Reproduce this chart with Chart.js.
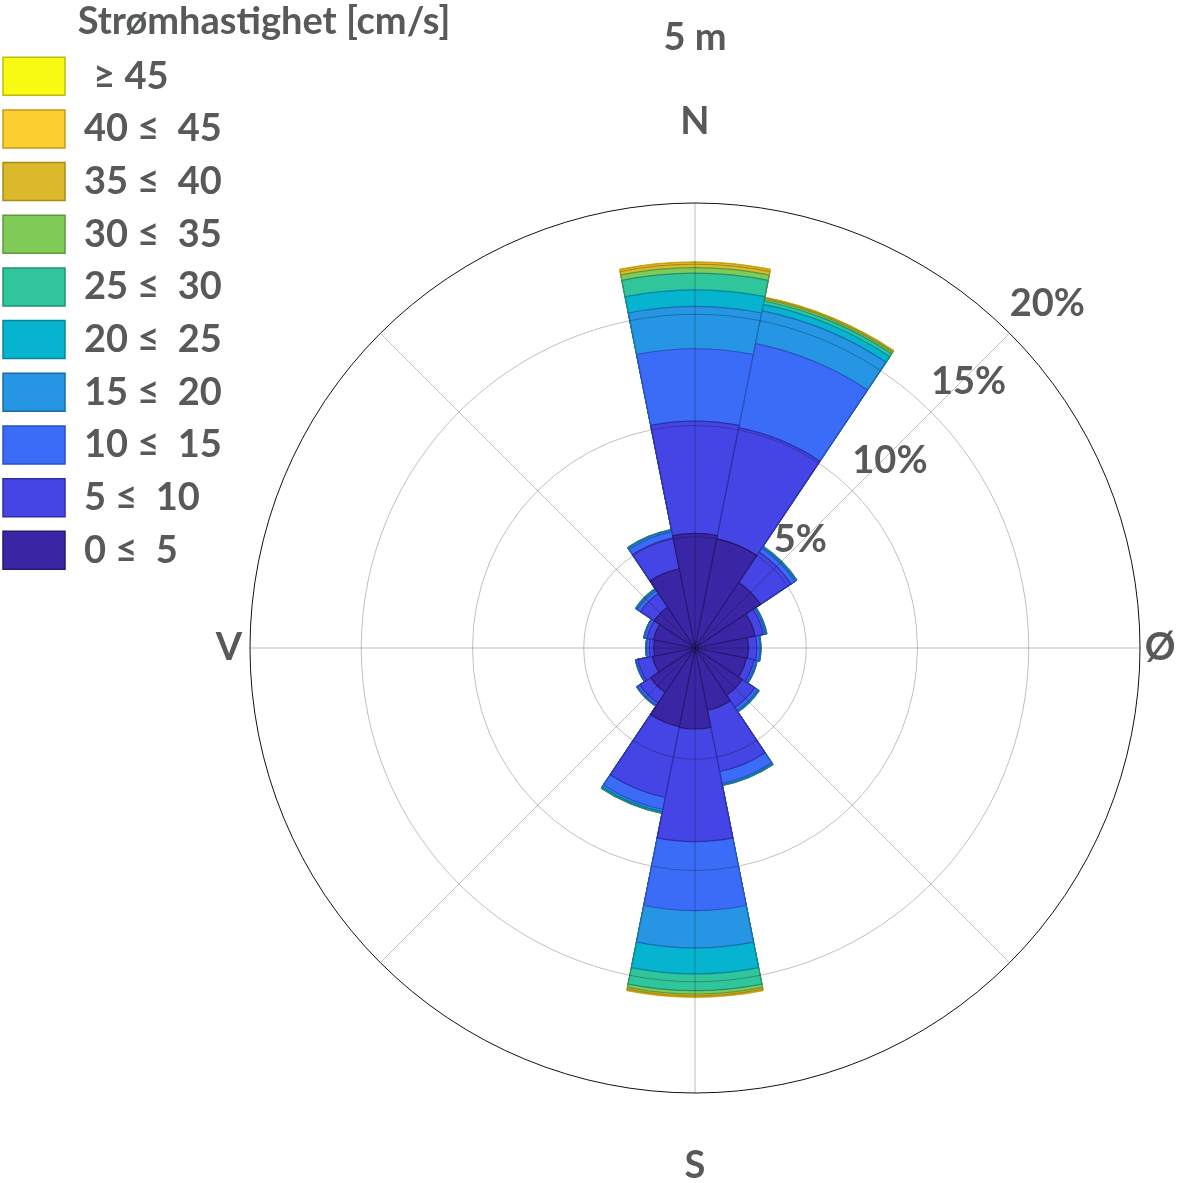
<!DOCTYPE html>
<html>
<head>
<meta charset="utf-8">
<title>Strømrose 5 m</title>
<script src="https://cdn.jsdelivr.net/npm/chart.js@4.4.1/dist/chart.umd.min.js"></script>
<style>
  html, body { margin: 0; padding: 0; background: #fff; }
  #wrap { width: 1179px; height: 1183px; position: relative; }
</style>
</head>
<body>
<div id="wrap"><canvas id="rose"></canvas></div>
<script>
// 16 sectors, clockwise from north
const directions = ['N', 'NNØ', 'NØ', 'ØNØ', 'Ø', 'ØSØ', 'SØ', 'SSØ', 'S', 'SSV', 'SV', 'VSV', 'V', 'VNV', 'NV', 'NNV'];

// % of time in each speed class (cm/s), per sector
const speed0to5   = [5.15, 5.00, 3.54, 2.75, 2.40, 2.35, 2.55, 2.85, 3.64, 3.60, 2.40, 1.95, 1.85, 1.90, 2.20, 3.63];
const speed5to10  = [5.05, 5.10, 1.65, 0.38, 0.38, 0.35, 0.67, 2.81, 5.06, 3.25, 0.58, 0.67, 0.20, 0.30, 0.75, 1.42];
const speed10to15 = [3.25, 3.85, 0.21, 0.09, 0.14, 0.10, 0.16, 0.54, 3.10, 0.55, 0.12, 0.08, 0.13, 0.12, 0.17, 0.28];
const speed15to20 = [1.90, 1.50, 0.06, 0.04, 0.03, 0.04, 0.05, 0.06, 1.68, 0.10, 0.04, 0.02, 0.02, 0.02, 0.06, 0.07];
const speed20to25 = [0.75, 0.30, 0.03, 0.02, 0.01, 0.01, 0.02, 0.03, 1.17, 0.05, 0.01, 0.01, 0.01, 0.01, 0.02, 0.02];
const speed25to30 = [0.75, 0.15, 0.01, 0.01, 0.00, 0.00, 0.01, 0.01, 0.75, 0.02, 0.00, 0.00, 0.00, 0.00, 0.01, 0.01];
const speed30to35 = [0.25, 0.08, 0.00, 0.00, 0.00, 0.00, 0.00, 0.00, 0.15, 0.01, 0.00, 0.00, 0.00, 0.00, 0.00, 0.00];
const speed35to40 = [0.15, 0.05, 0.00, 0.00, 0.00, 0.00, 0.00, 0.00, 0.08, 0.00, 0.00, 0.00, 0.00, 0.00, 0.00, 0.00];
const speed40to45 = [0.08, 0.03, 0.00, 0.00, 0.00, 0.00, 0.00, 0.00, 0.05, 0.00, 0.00, 0.00, 0.00, 0.00, 0.00, 0.00];
const speedOver45 = [0.03, 0.02, 0.00, 0.00, 0.00, 0.00, 0.00, 0.00, 0.02, 0.00, 0.00, 0.00, 0.00, 0.00, 0.00, 0.00];

const speedClasses = ['0 ≤  5', '5 ≤  10', '10 ≤  15', '15 ≤  20', '20 ≤  25', '25 ≤  30', '30 ≤  35', '35 ≤  40', '40 ≤  45', ' ≥ 45'];
const ringTicks = [5, 10, 15, 20];
const compassLabels = ['N', 'Ø', 'S', 'V'];

const fills = ['#3a26a4', '#4545e6', '#3b6cf8', '#2595e4', '#06b4cf', '#31c59c', '#80ca57', '#dbb92b', '#fcce2f', '#f9fa14'];
const edges = ['#251a70', '#2e2ea8', '#2a50c0', '#1a6cac', '#04879c', '#22926f', '#5c9a3c', '#a88a18', '#c89a1e', '#bcbc10'];

const FONT = 'Lato, "Open Sans", sans-serif';
const SIZE = 38;
const GREY = '#58595b';
const GRID = 'rgba(0, 0, 0, 0.25)';

// stacked rose: every ring is drawn as the running total, smallest on top
const bins = [speed0to5, speed5to10, speed10to15, speed15to20, speed20to25,
              speed25to30, speed30to35, speed35to40, speed40to45, speedOver45];
let running = directions.map(() => 0);
const cumulative = bins.map(bin => (running = running.map((v, i) => +(v + bin[i]).toFixed(3))));

const roseDecor = {
    id: 'roseDecor',
    beforeInit(chart) {
        // fixed legend column, so the rose sits right of it
        const fit = chart.legend.fit;
        chart.legend.fit = function () {
            fit.call(this);
            this.width = 250;
        };
    },
    afterLayout(chart) {
        // legend hangs over the rose's bounding box like in the original
        const lg = chart.legend;
        lg.left = 3 - lg.options.labels.padding;
        lg.top = 0;
        lg.width = 2 * (264 - lg.left);
        lg.right = lg.left + lg.width;
    },
    afterDatasetsDraw(chart) {
        const r = chart.scales.r;
        const ctx = chart.ctx;
        const R = r.drawingArea;
        ctx.save();
        ctx.strokeStyle = GRID;
        ctx.lineWidth = 1;
        for (let a = 0; a < 360; a += 45) {
            const t = a * Math.PI / 180;
            ctx.beginPath();
            ctx.moveTo(r.xCenter, r.yCenter);
            ctx.lineTo(r.xCenter + R * Math.sin(t), r.yCenter - R * Math.cos(t));
            ctx.stroke();
        }
        ctx.restore();
    },
    afterDraw(chart) {
        const r = chart.scales.r;
        const ctx = chart.ctx;
        const R = r.drawingArea;
        ctx.save();
        ctx.fillStyle = GREY;
        ctx.font = 'bold ' + SIZE + 'px ' + FONT;
        ctx.textBaseline = 'middle';

        // ring labels along the NE spoke
        ctx.textAlign = 'left';
        ringTicks.forEach(v => {
            const d = r.getDistanceFromCenterForValue(v) * Math.SQRT1_2;
            ctx.fillText(v + '%', r.xCenter + d, r.yCenter - d - 30);
        });

        // compass points
        ctx.textAlign = 'center';
        const spots = [[0, -(R + 81)], [R + 20, 0], [0, R + 73], [-(R + 21), 0]];
        compassLabels.forEach((txt, i) => {
            ctx.fillText(txt, r.xCenter + spots[i][0], r.yCenter + spots[i][1]);
        });
        ctx.restore();
    }
};

const ctx = document.getElementById('rose').getContext('2d');
new Chart(ctx, {
    type: 'polarArea',
    data: {
        labels: directions,
        datasets: cumulative.map((data, i) => ({
            label: speedClasses[i],
            data: data,
            backgroundColor: fills[i],
            borderColor: edges[i],
            borderWidth: 1.2
        }))
    },
    options: {
        responsive: true,
        maintainAspectRatio: false,
        animation: false,
        layout: { padding: { left: 0, top: 0, right: 39, bottom: 90 } },
        scales: {
            r: {
                min: 0,
                max: 20,
                startAngle: -11.25,
                ticks: { display: false, stepSize: 5 },
                pointLabels: { display: false },
                angleLines: { display: false },
                grid: {
                    z: 1,
                    circular: true,
                    lineWidth: 1,
                    color: c => (c.tick && c.tick.value === 20 ? '#111' : GRID)
                }
            }
        },
        plugins: {
            tooltip: { enabled: false },
            title: {
                display: true,
                text: '5 m',
                position: 'top',
                fullSize: false,
                color: GREY,
                font: { family: FONT, size: SIZE, weight: 'bold', lineHeight: 1 },
                padding: { top: 19, bottom: 146 }
            },
            legend: {
                position: 'left',
                align: 'start',
                reverse: true,
                onClick: () => {},
                title: {
                    display: true,
                    text: 'Strømhastighet [cm/s]',
                    position: 'center',
                    color: GREY,
                    font: { family: FONT, size: SIZE, weight: 'bold', lineHeight: 1 },
                    padding: { top: 3, bottom: 1.6 }
                },
                labels: {
                    boxWidth: 62,
                    boxHeight: 38,
                    padding: 14.67,
                    color: GREY,
                    font: { family: FONT, size: SIZE, weight: 'bold' },
                    generateLabels: chart => chart.data.datasets.map((ds, i) => ({
                        text: ds.label,
                        fillStyle: ds.backgroundColor,
                        strokeStyle: ds.borderColor,
                        lineWidth: 1.5,
                        fontColor: GREY,
                        hidden: false,
                        datasetIndex: i
                    }))
                }
            }
        }
    },
    plugins: [roseDecor]
});
</script>
</body>
</html>
